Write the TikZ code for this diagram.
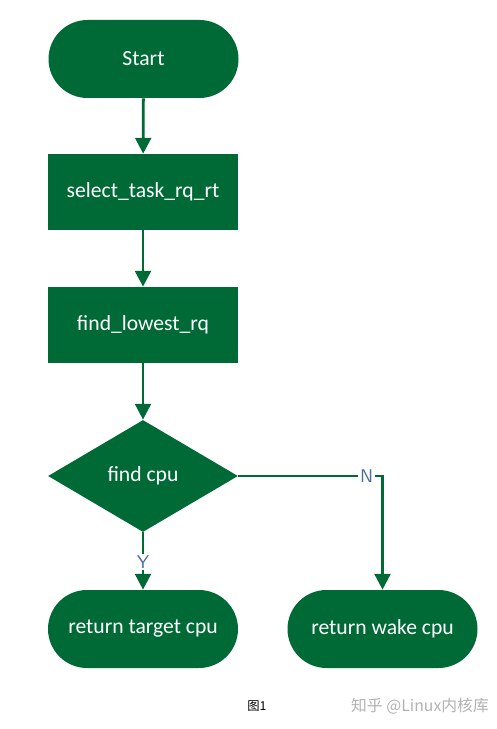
\documentclass[tikz,border=0pt]{standalone}
\usepackage{fontspec}
\setmainfont{Carlito}
\newfontfamily\cjk{Noto Sans CJK SC}
\usetikzlibrary{shapes.geometric,arrows.meta}
\definecolor{flowgreen}{RGB}{0,106,54}
\definecolor{lblblue}{RGB}{74,110,160}

\begin{document}
\begin{tikzpicture}[
  box/.style={rectangle, fill=flowgreen, text=white, minimum width=3.8cm, minimum height=1.52cm, font=\fontsize{12.3}{14}\selectfont},
  term/.style={box, rounded corners=0.78cm, minimum height=1.56cm},
  decide/.style={diamond, fill=flowgreen, text=white, inner sep=0pt, minimum width=3.8cm, minimum height=2.24cm, font=\fontsize{12.3}{14}\selectfont},
  flow/.style={draw=flowgreen, line width=1.6pt, -{Triangle[width=9pt,length=9pt]}},
  lbl/.style={fill=white, text=lblblue, inner sep=1pt, font=\sffamily\fontsize{10.5}{12}\selectfont}]
\useasboundingbox (0,0) rectangle (9.94,-14.58);

\node[term] (start) at (2.87,-1.18) {Start};
\node[box] (sel) at (2.86,-3.84) {select\_task\_rq\_rt};
\node[box] (low) at (2.86,-6.50) {find\_lowest\_rq};
\node[decide] (cpu) at (2.86,-9.52) {find cpu};
\node[term] (tgt) at (2.86,-12.58) {return target cpu};
\node[term] (wake) at (7.65,-12.58) {return wake cpu};
\coordinate (turn) at (wake.north |- cpu.east);

\draw[flow] (start) -- (sel);
\draw[flow] (sel) -- (low);
\draw[flow] (low) -- (cpu);
\draw[flow] (cpu) -- node[lbl, pos=0.52] {Y} (tgt);
\draw[flow] (cpu.east) -- node[lbl, pos=0.89] {N} (turn) -- (wake.north);

\node[font=\cjk\fontsize{7}{8}\selectfont] (fig) at (5.14,-14.12) {图1};
\node[text=black!30, font=\cjk\fontsize{9}{10}\selectfont] (mark) at (8.4,-14.12) {知乎 @Linux内核库};
\end{tikzpicture}
\end{document}
